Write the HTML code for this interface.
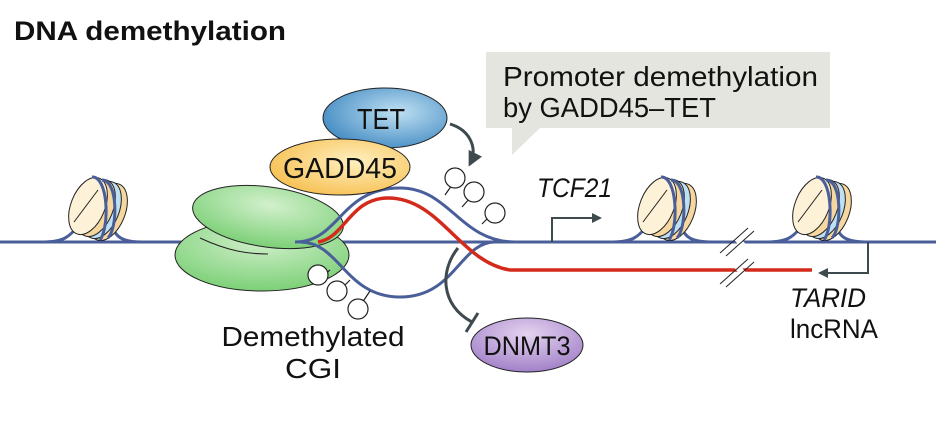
<!DOCTYPE html>
<html><head><meta charset="utf-8"><style>
body{margin:0;background:#fff}
svg{display:block;font-family:"Liberation Sans","DejaVu Sans",sans-serif}
</style></head><body>
<svg width="936" height="446" viewBox="0 0 936 446" xmlns="http://www.w3.org/2000/svg">
<defs>
<radialGradient id="gb" cx="0.6" cy="0.4" r="0.7"><stop offset="0" stop-color="#bfe0f2"/><stop offset="1" stop-color="#3c86c0"/></radialGradient>
<radialGradient id="gy" cx="0.6" cy="0.4" r="0.7"><stop offset="0" stop-color="#fff0c0"/><stop offset="1" stop-color="#f6bd4c"/></radialGradient>
<radialGradient id="gg" cx="0.5" cy="0.3" r="0.7"><stop offset="0" stop-color="#d2f0cc"/><stop offset="1" stop-color="#7cd077"/></radialGradient>
<radialGradient id="gp" cx="0.5" cy="0.3" r="0.7"><stop offset="0" stop-color="#e4d3f0"/><stop offset="1" stop-color="#a281c8"/></radialGradient>
<marker id="ah" viewBox="0 0 10 10" refX="8" refY="5" markerWidth="5" markerHeight="5" orient="auto"><path d="M0,0 L10,5 L0,10 z" fill="#3e4a4e"/></marker>
<g id="nuc">
<path d="M-50,30 C-30,30 -24,24 -16,14" fill="none" stroke="#4a5f9a" stroke-width="3"/>
<path d="M16,8 C20,24 26,30 48,30" fill="none" stroke="#4a5f9a" stroke-width="3"/>
<ellipse cx="14" cy="0" rx="17" ry="30" fill="#f6d7a0" stroke="#222" stroke-width="1" transform="rotate(22 14 0)"/>
<ellipse cx="8" cy="-2" rx="17" ry="30" fill="#bfe0f2" stroke="#222" stroke-width="1" transform="rotate(22 8 -2)"/>
<ellipse cx="2" cy="-4" rx="17" ry="30" fill="#f6d7a0" stroke="#222" stroke-width="1" transform="rotate(22 2 -4)"/>
<ellipse cx="-6" cy="-6" rx="17" ry="30" fill="#fdf1d8" stroke="#222" stroke-width="1" transform="rotate(22 -6 -6)"/>
<line x1="-20" y1="10" x2="4" y2="-22" stroke="#222" stroke-width="1"/>
<path d="M-2,-35 C14,-36 16,14 6,28" fill="none" stroke="#4a5f9a" stroke-width="3"/>
<path d="M8,-32 C24,-32 24,16 14,26" fill="none" stroke="#4a5f9a" stroke-width="3"/>
</g>
</defs>
<text x="14" y="40" font-size="27" font-weight="bold" fill="#111" textLength="272" lengthAdjust="spacingAndGlyphs">DNA demethylation</text>
<!-- callout -->
<path d="M486,52 H830 V128 H540 L512,155 L512,128 H486 Z" fill="#e5e5e0"/>
<text x="503" y="86" font-size="28" fill="#111" textLength="315" lengthAdjust="spacingAndGlyphs">Promoter demethylation</text>
<text x="503" y="117" font-size="28" fill="#111" textLength="213" lengthAdjust="spacingAndGlyphs">by GADD45–TET</text>
<!-- main DNA -->
<line x1="0" y1="242" x2="936" y2="242" stroke="#4a5f9a" stroke-width="3"/>
<use href="#nuc" x="94" y="212"/>
<use href="#nuc" x="663" y="212"/>
<use href="#nuc" x="818" y="212"/>
<!-- green -->
<ellipse cx="262" cy="255" rx="87" ry="36" fill="url(#gg)" stroke="#222" stroke-width="1"/>
<ellipse cx="268" cy="217" rx="76" ry="30" fill="url(#gg)" stroke="#222" stroke-width="1" transform="rotate(8 268 217)"/>
<path d="M200,238 C230,252 250,254 268,254" fill="none" stroke="#222" stroke-width="1"/>
<!-- bubble -->
<path d="M295,242 C340,242 340,188 400,188 C450,188 460,242 515,242" fill="none" stroke="#4a5f9a" stroke-width="3"/>
<path d="M300,242 C340,242 345,297 400,297 C455,297 460,242 495,242" fill="none" stroke="#4a5f9a" stroke-width="3"/>
<path d="M318,242 C345,238 350,198 388,198 C440,198 460,262 510,270 L812,270" fill="none" stroke="#d42a1c" stroke-width="3.5"/>
<!-- methyl groups -->
<g stroke="#222" stroke-width="1.2" fill="#fff">
<line x1="445" y1="195" x2="452" y2="185"/><circle cx="455" cy="178" r="10"/>
<line x1="462" y1="207" x2="470" y2="198"/><circle cx="474" cy="192" r="10"/>
<line x1="482" y1="224" x2="490" y2="216"/><circle cx="495" cy="213" r="10"/>
<line x1="330" y1="270" x2="325" y2="274"/><circle cx="318" cy="275" r="10"/>
<line x1="350" y1="280" x2="342" y2="288"/><circle cx="337" cy="291" r="10"/>
<line x1="370" y1="291" x2="362" y2="303"/><circle cx="358" cy="309" r="10"/>
</g>
<!-- TET / GADD45 -->
<ellipse cx="385" cy="118" rx="62" ry="30" fill="url(#gb)" stroke="#222" stroke-width="1"/>
<text x="381" y="129" font-size="29" text-anchor="middle" fill="#111" textLength="48" lengthAdjust="spacingAndGlyphs">TET</text>
<ellipse cx="340" cy="167" rx="70" ry="28" fill="url(#gy)" stroke="#222" stroke-width="1"/>
<text x="340" y="178" font-size="29" text-anchor="middle" fill="#111" textLength="114" lengthAdjust="spacingAndGlyphs">GADD45</text>
<path d="M450,124 C470,130 478,148 470,164" fill="none" stroke="#3e4a4e" stroke-width="3" marker-end="url(#ah)"/>
<!-- inhibition -->
<path d="M458,248 C440,270 440,305 472,322" fill="none" stroke="#3e4a4e" stroke-width="3"/>
<line x1="466" y1="332" x2="478" y2="313" stroke="#3e4a4e" stroke-width="3"/>
<ellipse cx="527" cy="345" rx="56" ry="27" fill="url(#gp)" stroke="#222" stroke-width="1"/>
<text x="527" y="355" font-size="27" text-anchor="middle" fill="#111" textLength="87" lengthAdjust="spacingAndGlyphs">DNMT3</text>
<!-- TCF21 -->
<text x="537" y="197" font-size="27" font-style="italic" fill="#111" textLength="75" lengthAdjust="spacingAndGlyphs">TCF21</text>
<path d="M552,242 V218 H600" fill="none" stroke="#3e4a4e" stroke-width="2" marker-end="url(#ah)"/>
<!-- TARID -->
<path d="M868,242 V273 H820" fill="none" stroke="#3e4a4e" stroke-width="2" marker-end="url(#ah)"/>
<text x="790" y="307" font-size="27" font-style="italic" fill="#111" textLength="76" lengthAdjust="spacingAndGlyphs">TARID</text>
<text x="790" y="338" font-size="27" fill="#111" textLength="88" lengthAdjust="spacingAndGlyphs">lncRNA</text>
<!-- breaks -->
<g stroke="#fff" stroke-width="6"><line x1="735" y1="236" x2="745" y2="248"/><line x1="735" y1="264" x2="745" y2="276"/></g>
<g stroke="#222" stroke-width="1"><line x1="720" y1="253" x2="748" y2="228"/><line x1="726" y1="256" x2="754" y2="231"/><line x1="720" y1="284" x2="748" y2="259"/><line x1="726" y1="287" x2="754" y2="262"/></g>
<text x="313" y="346" font-size="28" text-anchor="middle" fill="#111" textLength="183" lengthAdjust="spacingAndGlyphs">Demethylated</text>
<text x="313" y="378" font-size="28" text-anchor="middle" fill="#111" textLength="56" lengthAdjust="spacingAndGlyphs">CGI</text>
</svg>
</body></html>
